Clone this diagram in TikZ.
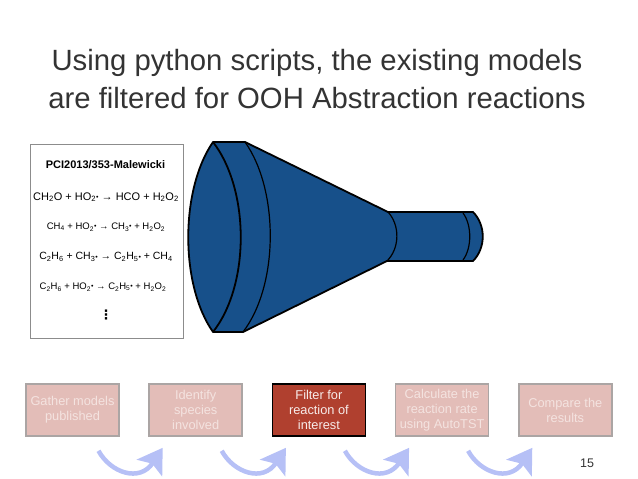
\documentclass[tikz,border=0pt]{standalone}
\usepackage{xcolor}
\usepackage{fontspec}
\setmainfont{Liberation Sans}
\newfontfamily\dotsfont{DejaVu Sans}
\usepackage{tikz}
\usetikzlibrary{positioning,arrows.meta}

\definecolor{funnelblue}{HTML}{17508A}
\definecolor{fadedred}{HTML}{E3BDB8}
\definecolor{fadedtext}{HTML}{F4E3E0}
\definecolor{fadedline}{HTML}{ABA5A4}
\definecolor{activered}{HTML}{B0402F}
\definecolor{arrowblue}{HTML}{B6C0F6}
\definecolor{titlegray}{HTML}{333333}

\newcommand{\subs}[1]{\textsubscript{#1}}
\newcommand{\rad}{{\scriptsize\raisebox{0.2ex}{•}}}

\tikzset{
  stepbox/.style={draw=fadedline, line width=1.6pt, fill=fadedred, text=fadedtext, minimum width=93pt, minimum height=52pt, align=center, font=\fontsize{12.8}{15}\selectfont, inner sep=0pt},
  activebox/.style={stepbox, draw=black, fill=activered, text=white!90!activered},
  flowarrow/.style={draw=arrowblue, line width=4.5pt, -{Stealth[length=24pt, width=30pt, inset=5pt, fill=arrowblue]}},
  funnelline/.style={draw=black, line width=1.8pt},
  reaction/.style={inner sep=0pt},
}

\begin{document}
\begin{tikzpicture}[x=1pt, y=-1pt, node distance=28.6pt]
\useasboundingbox (0,0) rectangle (638,479);

% title
\node[text=titlegray, font=\fontsize{29.3}{38}\selectfont, align=center] (title) at (317,79) {Using python scripts, the existing models\\are filtered for OOH Abstraction reactions};

% model file
\node[draw=black!45, line width=0.8pt, minimum width=153pt, minimum height=194pt, inner sep=0pt] (file) at (106.5,241) {};
\node[reaction, font=\fontsize{11}{13}\selectfont\bfseries] (head) at (105.5,165) {PCI2013/353-Malewicki};
\node[reaction, font=\fontsize{11}{13}\selectfont] (r1) at (106,197) {CH\subs{2}O + HO\subs{2}\rad{} → HCO + H\subs{2}O\subs{2}};
\node[reaction, font=\fontsize{9.5}{12}\selectfont] (r2) at (106,227) {CH\subs{4} + HO\subs{2}\rad{} → CH\subs{3}\rad{} + H\subs{2}O\subs{2}};
\node[reaction, font=\fontsize{10.5}{13}\selectfont] (r3) at (106,257) {C\subs{2}H\subs{6} + CH\subs{3}\rad{} → C\subs{2}H\subs{5}\rad{} + CH\subs{4}};
\node[reaction, font=\fontsize{9.5}{12}\selectfont] (r4) at (103,287) {C\subs{2}H\subs{6} + HO\subs{2}\rad{} → C\subs{2}H\subs{5}\rad{} + H\subs{2}O\subs{2}};
\node[reaction, font=\fontsize{13}{13}\selectfont\dotsfont\bfseries] (dots) at (106,315) {⋮};

% funnel
\fill[funnelblue] (213,142) -- (245,142) -- (388,212) -- (473,212)
  .. controls (486,225) and (486,248) .. (473,261) -- (387,261) -- (243,332) -- (213,332)
  .. controls (180,285) and (180,190) .. cycle;
\draw[funnelline, line join=round] (213,142) -- (245,142) -- (388,212) -- (473,212)
  .. controls (486,225) and (486,248) .. (473,261) -- (387,261) -- (243,332) -- (213,332)
  .. controls (180,285) and (180,190) .. cycle;
\draw[funnelline] (213,142) .. controls (250,190) and (250,285) .. (213,332);
\draw[funnelline, line width=1.2pt] (245,142) .. controls (279,190) and (279,285) .. (243,332);
\draw[funnelline, line width=1.2pt] (388,212) .. controls (400,225) and (400,248) .. (387,261);
\draw[funnelline, line width=1.2pt] (463,213) .. controls (472,225) and (472,248) .. (463,260);

% steps
\node[stepbox] (gather) at (72.5,410) {Gather models\\published};
\node[stepbox, right=of gather] (identify) {Identify\\species\\involved};
\node[activebox, right=of identify] (filter) {Filter for\\reaction of\\interest};
\node[stepbox, right=of filter] (calculate) {Calculate the\\reaction rate\\using AutoTST};
\node[stepbox, right=of calculate] (compare) {Compare the\\results};

\node[font=\fontsize{12.5}{15}\selectfont, text=titlegray] (page) at (587,463) {15};

% arrows under the steps
\coordinate (a1) at ([xshift=26pt, yshift=-14pt]gather.south);
\coordinate (b1) at ([xshift=-33pt, yshift=-11pt]identify.south);
\coordinate (a2) at ([xshift=26pt, yshift=-14pt]identify.south);
\coordinate (b2) at ([xshift=-33pt, yshift=-11pt]filter.south);
\coordinate (a3) at ([xshift=26pt, yshift=-14pt]filter.south);
\coordinate (b3) at ([xshift=-33pt, yshift=-11pt]calculate.south);
\coordinate (a4) at ([xshift=26pt, yshift=-14pt]calculate.south);
\coordinate (b4) at ([xshift=-33pt, yshift=-11pt]compare.south);
\draw[flowarrow] (a1) .. controls +(12,22) and +(-23,35) .. (b1);
\draw[flowarrow] (a2) .. controls +(12,22) and +(-23,35) .. (b2);
\draw[flowarrow] (a3) .. controls +(12,22) and +(-23,35) .. (b3);
\draw[flowarrow] (a4) .. controls +(12,22) and +(-23,35) .. (b4);
\end{tikzpicture}
\end{document}
